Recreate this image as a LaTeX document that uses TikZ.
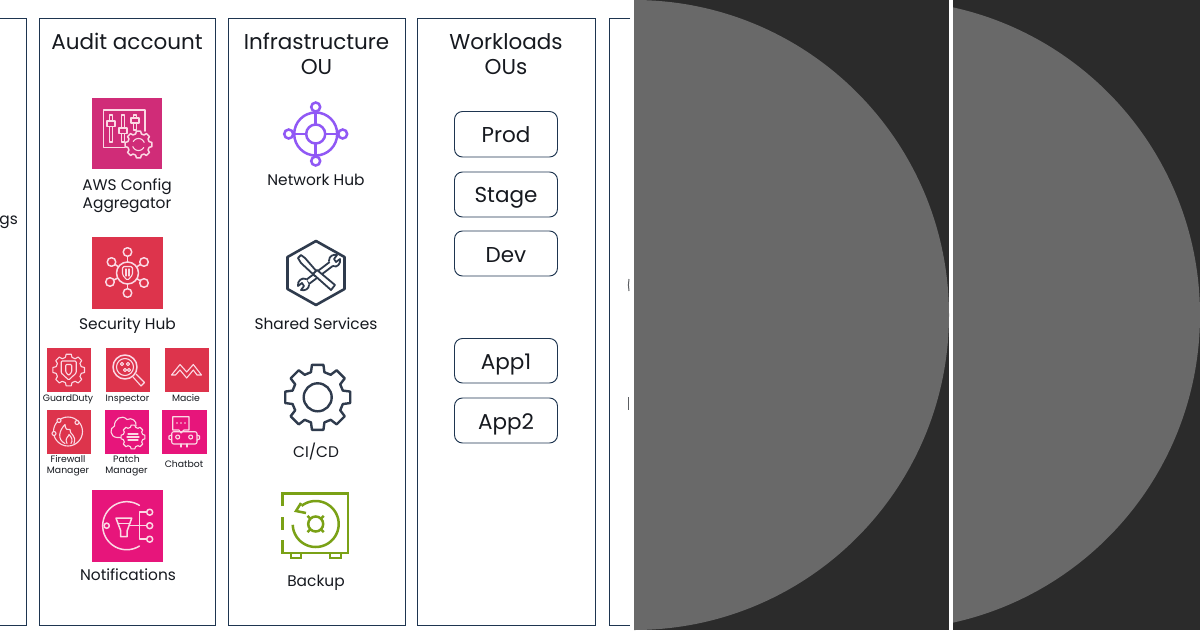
\documentclass[tikz,border=0pt]{standalone}
\usepackage{fontspec}
\setmainfont{Poppins}
\definecolor{navy}{HTML}{1E3550}
\definecolor{inkc}{HTML}{16191F}
\definecolor{cfgpink}{HTML}{D02C78}
\definecolor{secred}{HTML}{DD344C}
\definecolor{pinkc}{HTML}{E7157B}
\definecolor{pale}{HTML}{FBD9E4}
\definecolor{purp}{HTML}{9058F5}
\definecolor{slatec}{HTML}{2F3B4D}
\definecolor{greenc}{HTML}{7AA116}
\definecolor{darkp}{HTML}{2B2B2B}
\definecolor{greyc}{HTML}{696969}
\tikzset{
  panelbox/.style={draw=navy,line width=0.95pt,fill=white},
  btn/.style={draw=navy,line width=0.95pt,rounded corners=8pt,fill=white},
  ttl/.style={inkc,anchor=base,inner sep=0pt,font=\fontsize{21.5}{24}\selectfont},
  lbl/.style={inkc,anchor=base,inner sep=0pt,font=\fontsize{15.4}{18}\selectfont},
  tiny/.style={inkc,anchor=base,inner sep=0pt,font=\fontsize{9.3}{11}\selectfont},
  ic/.style={draw=pale,line width=1.1pt,line join=round,line cap=round},
  icb/.style={draw=pale,line width=1.5pt,line join=round,line cap=round},
}
\newcommand{\gearpath}[5]{% Rout Rin N halfOuter halfInner
  (-#5:#2) \foreach \i in {1,...,#3}{ -- ({(\i-1)*360/#3-#5}:#2) -- ({(\i-1)*360/#3-#4}:#1) -- ({(\i-1)*360/#3+#4}:#1) -- ({(\i-1)*360/#3+#5}:#2) } -- cycle
}
\begin{document}
\begin{tikzpicture}[x=1pt,y=-1pt]
\useasboundingbox (0,0) rectangle (1200,630);
\fill[white] (0,0) rectangle (1200,630);

% right panels
\fill[darkp] (634,0) rectangle (949,630);
\fill[darkp] (953,0) rectangle (1200,630);
\begin{scope}
  \clip (634,0) rectangle (949,630);
  \fill[greyc] (634,315) circle[radius=315pt];
\end{scope}
\begin{scope}
  \clip (953,0) rectangle (1200,630);
  \fill[greyc] (885,315) circle[radius=315pt];
\end{scope}

% column boxes
\draw[navy,line width=0.95pt] (0,18) -- (26,18) -- (26,625) -- (0,625);
\draw[panelbox] (39,18) rectangle (215,625);
\draw[panelbox] (228,18) rectangle (405,625);
\draw[panelbox] (417.5,18) rectangle (595,625);
\draw[navy,line width=0.95pt] (630,18) -- (609.5,18) -- (609.5,625) -- (630,625);
\node[lbl,anchor=base east] (frag) at (18,224) {gs};
\draw[inkc!70,line width=1pt] (629,279) -- (628.4,285) -- (629,291);
\draw[inkc!70,line width=1pt] (628.5,397) -- (628.5,410);

% titles
\node[ttl] (audit) at (127,49) {Audit account};
\node[ttl] (infra1) at (316.5,49) {Infrastructure};
\node[ttl] (infra2) at (316.5,74.5) {OU};
\node[ttl] (work1) at (506,49) {Workloads};
\node[ttl] (work2) at (506,74.5) {OUs};

% workload buttons
\draw[btn] (454.5,111.5) rectangle (557.5,157);
\draw[btn] (454.5,172) rectangle (557.5,217);
\draw[btn] (454.5,231) rectangle (557.5,276);
\draw[btn] (454.5,338.5) rectangle (557.5,383);
\draw[btn] (454.5,398) rectangle (557.5,443);
\node[ttl] (prod) at (506,142) {Prod};
\node[ttl] (stage) at (506,202) {Stage};
\node[ttl] (dev) at (506,262) {Dev};
\node[ttl] (app1) at (506,369) {App1};
\node[ttl] (app2) at (506,429) {App2};

% ---- AWS Config
\fill[cfgpink] (92,98) rectangle (162,169);
\draw[icb] (145,131) -- (145,110) -- (103.3,110) -- (103.3,147.7) -- (125,147.7);
\draw[ic] (109.5,115) rectangle (112.5,142);
\draw[ic,fill=cfgpink] (107,121) rectangle (115,126.5);
\draw[ic] (121.5,115) rectangle (124.5,142);
\draw[ic,fill=cfgpink] (119,128) rectangle (127,133.5);
\draw[ic] (133.5,115) rectangle (136.5,130);
\draw[ic,fill=cfgpink] (131,118) rectangle (139,123);
\begin{scope}[shift={(138.5,144.5)}]
  \draw[icb,fill=cfgpink] \gearpath{13.5}{11}{8}{9}{15};
  \draw[ic] plot[domain=-150:-20,samples=14] ({6*cos(\x)},{6*sin(\x)});
  \draw[ic] plot[domain=30:160,samples=14] ({6*cos(\x)},{6*sin(\x)});
\end{scope}
\node[lbl] (cfg1) at (127,190) {AWS Config};
\node[lbl] (cfg2) at (127,208) {Aggregator};

% ---- Security Hub
\fill[secred] (92,237) rectangle (163,309);
\begin{scope}[shift={(127.5,273)}]
  \foreach \p/\q in {0/-21,0/20,-16/-11,16.5/-11,-17.5/9,16.5/10}{\draw[icb] (0,0) -- (\p,\q);}
  \draw[icb,fill=secred] (0,0) circle[radius=11pt];
  \draw[ic,rounded corners=1.5pt] (-5,-6.5) -- (5,-6.5) -- (5,2) -- (0,7.5) -- (-5,2) -- cycle;
  \draw[ic] (-1.5,-4) -- (-1.5,3); \draw[ic] (1.5,-4) -- (1.5,3);
  \foreach \p/\q in {0/-21,0/20,-16/-11,16.5/-11,-17.5/9,16.5/10}{\draw[icb,fill=secred] (\p,\q) circle[radius=4.3pt];}
\end{scope}
\node[lbl] (sec) at (127.5,329.5) {Security Hub};

% ---- GuardDuty
\fill[secred] (46.5,348) rectangle (91,392);
\begin{scope}[shift={(68.7,370)}]
  \draw[ic] \gearpath{16}{13}{8}{9}{15};
  \draw[ic,rounded corners=1pt] (-7.5,-9) -- (7.5,-9) -- (7.5,3) -- (0,10) -- (-7.5,3) -- cycle;
  \draw[ic,rounded corners=1pt] (-3,-5.5) -- (3,-5.5) -- (3,2) -- (0,5.5) -- (-3,2) -- cycle;
\end{scope}
\node[tiny] (gd) at (68,401) {GuardDuty};

% ---- Inspector
\fill[secred] (105.5,348) rectangle (150,392);
\draw[icb] (125,367) circle[radius=12pt];
\draw[ic] (125,367) circle[radius=8.5pt];
\foreach \p/\q in {122/364,128/364,125/370,129/370}{\draw[ic] (\p,\q) circle[radius=1.6pt];}
\draw[ic] (136,374) -- (144.5,382.5) -- (141,386) -- (133,377);
\node[tiny] (insp) at (127.5,401) {Inspector};

% ---- Macie
\fill[secred] (164.5,348) rectangle (208.5,392);
\draw[ic] (171.5,375) -- (180,364.5) -- (186.7,372) -- (193.3,364.5) -- (201.5,375) -- (197,375) -- (193.3,370) -- (186.7,378) -- (180,370) -- (175.5,375) -- cycle;
\node[tiny] (mac) at (186,401) {Macie};

% ---- Firewall Manager
\fill[secred] (46.5,409.5) rectangle (91,454);
\begin{scope}[shift={(68,431.5)}]
  \draw[ic] (0,0) circle[radius=14.5pt];
  \foreach \p/\q in {-9/-11,9/-9,-14/2}{\draw[ic,fill=secred] (\p,\q) circle[radius=2pt];}
  \draw[ic] (-3,12) .. controls (-11,8) and (-9,-1) .. (-3,-7) .. controls (-3,-2) and (0,-1) .. (2,-2) .. controls (1,3) and (9,3) .. (6,12);
  \draw[ic] (-1,12) .. controls (-4,7) and (1,5) .. (1,3) .. controls (4,6) and (5,9) .. (3,12);
\end{scope}
\node[tiny] (fw1) at (68,462) {Firewall};
\node[tiny] (fw2) at (68,473) {Manager};

% ---- Patch Manager
\fill[pinkc] (104.5,409.5) rectangle (149,454);
\draw[ic] (123,437.5) -- (117,437.5) .. controls (110,437) and (109,428) .. (114.5,426) .. controls (114,419) and (122,414) .. (127,419.5) .. controls (132,417) and (137,421) .. (136,426);
\begin{scope}[shift={(133,437)}]
  \draw[ic,fill=pinkc] \gearpath{12}{10}{8}{9}{15};
  \draw[ic] (-5,-3) -- (5,-3); \draw[ic] (-6,0) -- (6,0); \draw[ic] (-5,3) -- (5,3);
\end{scope}
\node[tiny] (pm1) at (126.5,462) {Patch};
\node[tiny] (pm2) at (126.5,473) {Manager};

% ---- Chatbot
\fill[pinkc] (162,409.5) rectangle (207,454);
\draw[ic] (172.7,416.7) -- (189,416.7) -- (189,430) -- (184,430) -- (181,433) -- (179,430) -- (172.7,430) -- cycle;
\foreach \p in {177,181,185}{\fill[pale] (\p,423) circle[radius=0.8pt];}
\draw[ic,rounded corners=2pt] (171.7,431.7) rectangle (197,444);
\draw[ic] (177.7,437) circle[radius=2pt];
\draw[ic] (190.7,437) circle[radius=2pt];
\draw[ic] (171.7,435) -- (169,436) -- (169,439) -- (171.7,440);
\draw[ic] (197,435) -- (199.5,436) -- (199.5,439) -- (197,440);
\draw[ic] (181,444) -- (181,447); \draw[ic] (187,444) -- (187,447);
\node[tiny] (chat) at (184,467) {Chatbot};

% ---- Notifications
\fill[pinkc] (91.5,490) rectangle (163,562);
\begin{scope}[shift={(126.7,525.7)}]
  \draw[icb] plot[domain=58:302,samples=50] ({24*cos(\x)},{24*sin(\x)});
  \draw[icb,fill=pinkc] (-20,0) circle[radius=2.6pt];
  \draw[icb] (-10.7,-7.5) -- (5,-7.5) -- (0.5,5) -- (0.5,11) -- (-6,11) -- (-6,5) -- cycle;
  \draw[ic] (-8,-2) -- (3,-2);
  \draw[icb] (3.5,0) -- (20,0);
  \draw[icb] (20,-13.5) -- (13,-13.5) -- (13,13.5) -- (20,13.5);
  \foreach \q in {-13.5,0,13.5}{\draw[icb,fill=pinkc] (23,\q) circle[radius=3pt];}
\end{scope}
\node[lbl] (note) at (128,580) {Notifications};

% ---- Network Hub
\begin{scope}[shift={(315.7,134)},purp,line width=2.5pt]
  \draw (0,0) circle[radius=21.5pt];
  \draw (0,-23) -- (0,23); \draw (-23,0) -- (23,0);
  \draw[fill=white] (0,0) circle[radius=9.5pt];
  \foreach \p/\q in {0/-27,0/27,-27/0,27/0}{\draw[fill=white] (\p,\q) circle[radius=4.5pt];}
\end{scope}
\node[lbl] (net) at (316,185.6) {Network Hub};

% ---- Shared Services
\draw[slatec,line width=2.6pt,line join=round] (316,241) -- (344.5,257) -- (344.5,289) -- (316,305) -- (287.5,289) -- (287.5,257) -- cycle;
\begin{scope}[slatec,line width=1.8pt,line join=round,line cap=round]
  % wrench
  \draw[fill=white] (331,261) -- (306,280) -- (309,284) -- (334,265) -- cycle;
  \draw[fill=white] (329,261) .. controls (329,256) and (333,254) .. (337,255) -- (334,259) -- (336,262) -- (340,259) .. controls (341,264) and (337,268) .. (333,266);
  \draw[fill=white] (309,285) .. controls (309,289) and (305,291) .. (301,290) -- (304,286) -- (302,283) -- (298,286) .. controls (297,281) and (302,277) .. (306,279);
  % screwdriver
  \draw[fill=white] (301,255) -- (298,258) -- (301,263) -- (315,276) -- (318,273) -- (305,258) -- cycle;
  \draw[fill=white] (317,270) -- (335,285) -- (331,290) -- (313,274) -- cycle;
\end{scope}
\node[lbl] (shr) at (316,329) {Shared Services};

% ---- CI/CD gear
\begin{scope}[shift={(317.7,397.3)}]
  \draw[slatec,line width=2.4pt,line join=round] \gearpath{33}{26}{8}{10}{15};
  \draw[slatec,line width=2.4pt] (0,0) circle[radius=14pt];
\end{scope}
\node[lbl] (cicd) at (316,457) {CI/CD};

% ---- Backup
\begin{scope}[greenc,line width=2.5pt]
  \draw (282.5,506) -- (282.5,493.5) -- (348,493.5) -- (348,553) -- (282.5,553) -- (282.5,540);
  \draw (282.5,517) -- (282.5,530);
  \draw[line width=2pt] (291,553) -- (291,557.5) -- (301,557.5) -- (301,553);
  \draw[line width=2pt] (330,553) -- (330,557.5) -- (341,557.5) -- (341,553);
  \draw plot[domain=-128:178,samples=60] ({315.7+23*cos(\x)},{524+23*sin(\x)});
  \draw (301,503) -- (296,511) -- (306,513);
  \draw (315.7,524) circle[radius=7.5pt];
  \foreach \a in {45,135,225,315}{\draw ({315.7+7.5*cos(\a)},{524+7.5*sin(\a)}) -- ({315.7+11.5*cos(\a)},{524+11.5*sin(\a)});}
\end{scope}
\node[lbl] (bkp) at (316,586) {Backup};
\end{tikzpicture}
\end{document}
